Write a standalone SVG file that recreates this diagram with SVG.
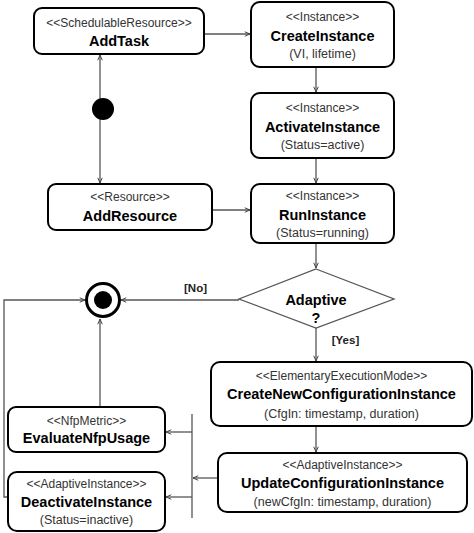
<svg xmlns="http://www.w3.org/2000/svg" width="474" height="533" viewBox="0 0 474 533">
<defs>
<marker id="ah" viewBox="0 0 8 8" refX="7.5" refY="4" markerWidth="6" markerHeight="6" orient="auto" markerUnits="userSpaceOnUse">
<path d="M0.5,1 L7.5,4 L0.5,7" fill="none" stroke="#444" stroke-width="1.3"/>
</marker>
<style>
.box{fill:#fff;stroke:#000;stroke-width:2}
.st{font-family:"Liberation Sans",Arial,sans-serif;font-size:12px;fill:#333;text-anchor:middle}
.nm{font-family:"Liberation Sans",Arial,sans-serif;font-size:14.5px;font-weight:bold;fill:#000;text-anchor:middle}
.sb{font-family:"Liberation Sans",Arial,sans-serif;font-size:12.5px;fill:#333;text-anchor:middle}
.lb{font-family:"Liberation Sans",Arial,sans-serif;font-size:11.5px;font-weight:bold;fill:#222;text-anchor:middle}
.ln{fill:none;stroke:#555;stroke-width:1.3}
.ar{fill:none;stroke:#555;stroke-width:1.3;marker-end:url(#ah)}
</style>
</defs>
<rect width="474" height="533" fill="#fff"/>
<g id="connectors">
<line class="ar" x1="204" y1="34" x2="250" y2="34"/>
<line class="ar" x1="316" y1="67" x2="316" y2="92"/>
<line class="ar" x1="316" y1="158" x2="316" y2="183"/>
<line class="ar" x1="212" y1="210" x2="250" y2="210"/>
<line class="ar" x1="316" y1="243" x2="316" y2="268"/>
<line class="ar" x1="100" y1="110" x2="100" y2="55"/>
<line class="ar" x1="100" y1="110" x2="100" y2="183"/>
<line class="ar" x1="239" y1="300" x2="121" y2="300"/>
<text class="lb" x="195.5" y="292">[No]</text>
<line class="ar" x1="316" y1="328" x2="316" y2="361"/>
<text class="lb" x="345.5" y="344">[Yes]</text>
<line class="ar" x1="316" y1="426" x2="316" y2="452"/>
<line class="ar" x1="218" y1="478" x2="193" y2="478"/>
<line class="ln" x1="192" y1="414" x2="192" y2="518" stroke-width="1.6"/>
<line class="ar" x1="192" y1="432" x2="166" y2="432"/>
<line class="ar" x1="192" y1="497" x2="166" y2="497"/>
<line class="ar" x1="100" y1="407" x2="100" y2="319"/>
<polyline class="ar" points="8,497 4,497 4,300 85,300"/>
</g>
<g id="initial">
<circle cx="103" cy="109" r="11" fill="#000"/>
</g>
<g id="final">
<circle cx="103" cy="300" r="16.5" fill="#fff" stroke="#000" stroke-width="3"/>
<circle cx="103" cy="300" r="9" fill="#000"/>
</g>
<g id="AddTask">
<rect class="box" x="34" y="8" width="170" height="46" rx="8"/>
<text class="st" x="119" y="27">&lt;&lt;SchedulableResource&gt;&gt;</text>
<text class="nm" x="119" y="46">AddTask</text>
</g>
<g id="CreateInstance">
<rect class="box" x="251" y="2" width="143" height="65" rx="9"/>
<text class="st" x="322.5" y="21">&lt;&lt;Instance&gt;&gt;</text>
<text class="nm" x="322.5" y="41">CreateInstance</text>
<text class="sb" x="322.5" y="58">(VI, lifetime)</text>
</g>
<g id="ActivateInstance">
<rect class="box" x="251" y="93" width="143" height="65" rx="9"/>
<text class="st" x="322.5" y="112">&lt;&lt;Instance&gt;&gt;</text>
<text class="nm" x="322.5" y="132">ActivateInstance</text>
<text class="sb" x="322.5" y="149">(Status=active)</text>
</g>
<g id="AddResource">
<rect class="box" x="48" y="184" width="164" height="46" rx="8"/>
<text class="st" x="130" y="201">&lt;&lt;Resource&gt;&gt;</text>
<text class="nm" x="130" y="221">AddResource</text>
</g>
<g id="RunInstance">
<rect class="box" x="251" y="184" width="143" height="59" rx="9"/>
<text class="st" x="322.5" y="200">&lt;&lt;Instance&gt;&gt;</text>
<text class="nm" x="322.5" y="220">RunInstance</text>
<text class="sb" x="322.5" y="237">(Status=running)</text>
</g>
<g id="Adaptive">
<polygon points="316,269 394,299 316,328 239,299" fill="#fff" stroke="#555" stroke-width="1.3"/>
<text class="nm" x="316" y="305">Adaptive</text>
<text class="nm" x="316" y="323">?</text>
</g>
<g id="CreateNewConfigurationInstance">
<rect class="box" x="211" y="362" width="261" height="64" rx="9"/>
<text class="st" x="341.5" y="380">&lt;&lt;ElementaryExecutionMode&gt;&gt;</text>
<text class="nm" x="341.5" y="399">CreateNewConfigurationInstance</text>
<text class="sb" x="341.5" y="418">(CfgIn: timestamp, duration)</text>
</g>
<g id="UpdateConfigurationInstance">
<rect class="box" x="218" y="453" width="249" height="59" rx="9"/>
<text class="st" x="342.5" y="469">&lt;&lt;AdaptiveInstance&gt;&gt;</text>
<text class="nm" x="342.5" y="488">UpdateConfigurationInstance</text>
<text class="sb" x="342.5" y="506">(newCfgIn: timestamp, duration)</text>
</g>
<g id="EvaluateNfpUsage">
<rect class="box" x="8" y="407" width="157" height="45" rx="8"/>
<text class="st" x="86.5" y="425">&lt;&lt;NfpMetric&gt;&gt;</text>
<text class="nm" x="86.5" y="443">EvaluateNfpUsage</text>
</g>
<g id="DeactivateInstance">
<rect class="box" x="8" y="472" width="157" height="59" rx="9"/>
<text class="st" x="86.5" y="488">&lt;&lt;AdaptiveInstance&gt;&gt;</text>
<text class="nm" x="86.5" y="507">DeactivateInstance</text>
<text class="sb" x="86.5" y="524">(Status=inactive)</text>
</g>
</svg>
